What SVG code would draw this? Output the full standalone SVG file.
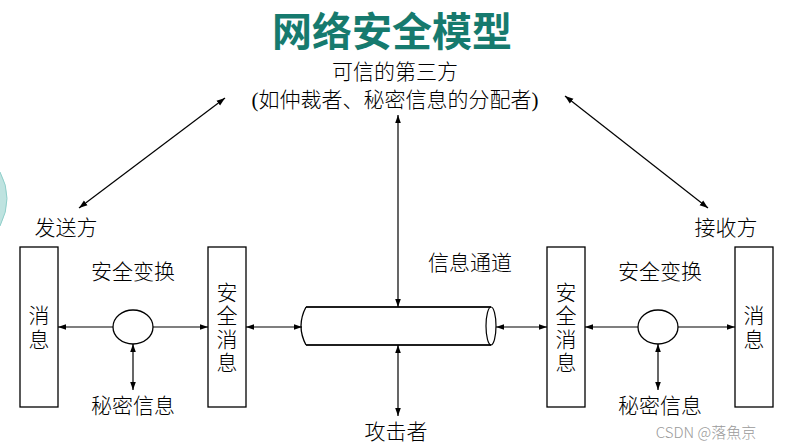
<svg xmlns="http://www.w3.org/2000/svg" width="786" height="448" viewBox="0 0 786 448">
<defs>
<marker id="a" viewBox="0 0 10 10" refX="10" refY="5" markerWidth="7" markerHeight="7" orient="auto-start-reverse"><path d="M0,1.5 L10,5 L0,8.5 z" fill="#000"/></marker>
<style>
text{font-family:"Liberation Serif","Noto Sans CJK SC",serif;font-size:21px;fill:#000;text-anchor:middle;font-weight:300}
.b{fill:#fff;stroke:#000;stroke-width:1.3}
.l{stroke:#000;stroke-width:1.2;fill:none}
.d{marker-start:url(#a);marker-end:url(#a)}
.e{marker-end:url(#a)}
</style>
</defs>
<rect width="786" height="448" fill="#fff"/>
<path d="M0,172 Q14,198 0,226" fill="#bfe3e0" stroke="#8fcfca"/>
<text x="392" y="46" style="font-family:'Noto Sans CJK SC',sans-serif;font-size:40px;font-weight:bold;fill:#167a6e">网络安全模型</text>
<text x="395" y="79">可信的第三方</text>
<text x="395" y="107">(如仲裁者、秘密信息的分配者)</text>
<g id="sender"><text x="66" y="235">发送方</text></g>
<g id="receiver"><text x="726" y="235">接收方</text></g>
<g id="msgL"><rect class="b" x="20" y="247" width="38" height="160"/><text x="39" y="323">消</text><text x="39" y="347">息</text></g>
<g id="secL"><rect class="b" x="208" y="247" width="38" height="160"/><text x="227" y="300">安</text><text x="227" y="323">全</text><text x="227" y="347">消</text><text x="227" y="370">息</text></g>
<g id="secR"><rect class="b" x="547" y="247" width="38" height="160"/><text x="566" y="300">安</text><text x="566" y="323">全</text><text x="566" y="347">消</text><text x="566" y="370">息</text></g>
<g id="msgR"><rect class="b" x="735" y="247" width="38" height="160"/><text x="754" y="323">消</text><text x="754" y="347">息</text></g>
<g id="transL"><text x="133" y="279">安全变换</text><ellipse class="b" cx="133" cy="327" rx="20" ry="17"/><text x="133" y="413">秘密信息</text></g>
<g id="transR"><text x="660" y="279">安全变换</text><ellipse class="b" cx="658" cy="327" rx="20" ry="17"/><text x="660" y="413">秘密信息</text></g>
<g id="channel"><text x="470" y="270">信息通道</text>
<path class="b" d="M306,307 L491,307 M306,345 L491,345 M306,307 Q296,326 306,345"/>
<path class="l" d="M306,307 L491,307 M306,345 L491,345"/>
<ellipse class="l" cx="491" cy="326" rx="5" ry="19"/></g>
<g id="attacker"><text x="396" y="439">攻击者</text></g>
<g id="connectors" class="l">
<line class="l d" x1="225" y1="98" x2="79" y2="208"/>
<line class="l d" x1="565" y1="96" x2="708" y2="208"/>
<line class="l d" x1="398" y1="115" x2="398" y2="307"/>
<line class="l d" x1="398" y1="345" x2="398" y2="416"/>
<line class="l e" x1="113" y1="327" x2="58" y2="327"/>
<line class="l e" x1="153" y1="327" x2="208" y2="327"/>
<line class="l d" x1="133" y1="344" x2="133" y2="390"/>
<line class="l d" x1="246" y1="327" x2="302" y2="327"/>
<line class="l d" x1="496" y1="327" x2="547" y2="327"/>
<line class="l e" x1="638" y1="327" x2="585" y2="327"/>
<line class="l e" x1="678" y1="327" x2="735" y2="327"/>
<line class="l d" x1="658" y1="344" x2="658" y2="390"/>
</g>
<text x="706" y="438" style="font-family:'Noto Sans CJK SC',sans-serif;font-size:15px;fill:#9a9a9a">CSDN @落魚京</text>
</svg>
